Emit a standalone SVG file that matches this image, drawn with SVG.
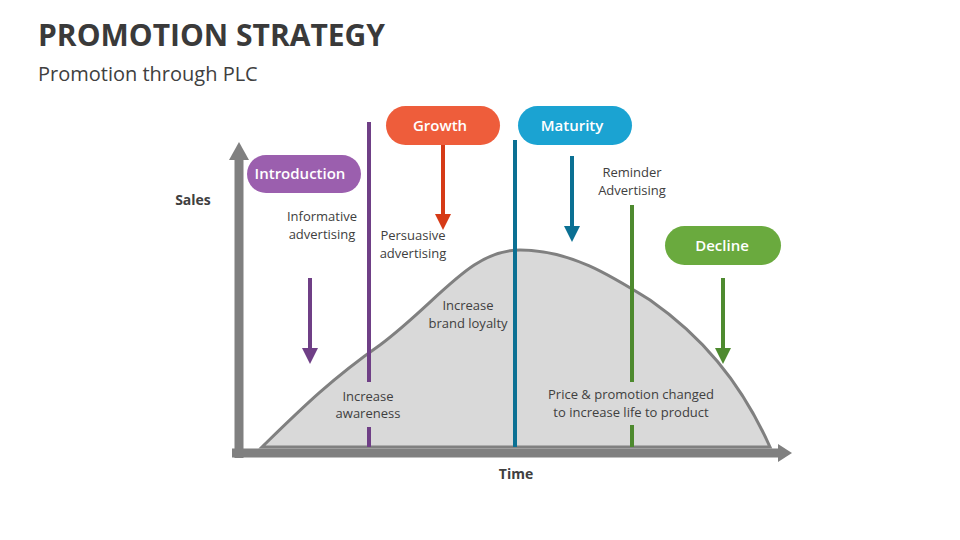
<svg xmlns="http://www.w3.org/2000/svg" width="960" height="540" viewBox="0 0 960 540">
<style>
text{font-family:"Open Sans","Liberation Sans",sans-serif;fill:#404040}
.lbl{font-size:13px;text-anchor:middle}
.pill{font-size:15px;fill:#fff;text-anchor:middle;font-weight:600}
</style>
<defs>
<marker id="ap" markerWidth="4" markerHeight="4" refX="2" refY="2" orient="auto" markerUnits="strokeWidth"><path d="M0,0L4,2L0,4z" fill="#6f3f86"/></marker>
<marker id="ar" markerWidth="4" markerHeight="4" refX="2" refY="2" orient="auto" markerUnits="strokeWidth"><path d="M0,0L4,2L0,4z" fill="#d63a16"/></marker>
<marker id="ab" markerWidth="4" markerHeight="4" refX="2" refY="2" orient="auto" markerUnits="strokeWidth"><path d="M0,0L4,2L0,4z" fill="#0b7093"/></marker>
<marker id="ag" markerWidth="4" markerHeight="4" refX="2" refY="2" orient="auto" markerUnits="strokeWidth"><path d="M0,0L4,2L0,4z" fill="#4e8a2f"/></marker>
</defs>
<rect width="960" height="540" fill="#fff"/>
<text x="38" y="46" style="font-size:30px;font-weight:700;fill:#3a3a3a">PROMOTION STRATEGY</text>
<text x="38" y="81" style="font-size:20px">Promotion through PLC</text>
<g id="curve">
<path d="M262,447 C300,410 330,380 380,345 C440,300 470,250 520,250 C570,250 610,275 650,300 C700,335 740,380 770,447 Z" fill="#d9d9d9" stroke="#808080" stroke-width="3"/>
</g>
<g id="axes">
<path d="M239,458 V158" stroke="#808080" stroke-width="9"/>
<path d="M229,160 L239,142 L249,160Z" fill="#808080"/>
<path d="M232,453 H780" stroke="#808080" stroke-width="9"/>
<path d="M778,444 L792,453 L778,462Z" fill="#808080"/>
<text x="193" y="205" class="lbl" style="font-weight:700;font-size:14px">Sales</text>
<text x="516" y="479" class="lbl" style="font-weight:700;font-size:14px">Time</text>
</g>
<g id="connectors">
<path d="M369,122 V382 M369,427 V447" stroke="#6f3f86" stroke-width="4"/>
<path d="M310,278 V356" stroke="#6f3f86" stroke-width="4" marker-end="url(#ap)"/>
<path d="M443,145 V222" stroke="#d63a16" stroke-width="4" marker-end="url(#ar)"/>
<path d="M515,140 V447" stroke="#0b7093" stroke-width="4"/>
<path d="M572,156 V234" stroke="#0b7093" stroke-width="4" marker-end="url(#ab)"/>
<path d="M632,205 V382 M632,425 V447" stroke="#4e8a2f" stroke-width="4"/>
<path d="M723,278 V356" stroke="#4e8a2f" stroke-width="4" marker-end="url(#ag)"/>
</g>
<g id="introduction">
<rect x="247" y="155" width="114" height="38" rx="19" fill="#9b5fae"/>
<text x="300" y="179" class="pill">Introduction</text>
<text x="322" y="221" class="lbl">Informative</text>
<text x="322" y="239" class="lbl">advertising</text>
<text x="368" y="401" class="lbl">Increase</text>
<text x="368" y="418" class="lbl">awareness</text>
</g>
<g id="growth">
<rect x="386" y="106" width="114" height="39" rx="19.5" fill="#ee5d3b"/>
<text x="440" y="131" class="pill">Growth</text>
<text x="413" y="240" class="lbl">Persuasive</text>
<text x="413" y="258" class="lbl">advertising</text>
<text x="468" y="310" class="lbl">Increase</text>
<text x="468" y="328" class="lbl">brand loyalty</text>
</g>
<g id="maturity">
<rect x="518" y="106" width="114" height="39" rx="19.5" fill="#1ba3d2"/>
<text x="572" y="131" class="pill">Maturity</text>
<text x="632" y="177" class="lbl">Reminder</text>
<text x="632" y="195" class="lbl">Advertising</text>
<text x="631" y="399" class="lbl">Price &amp; promotion changed</text>
<text x="631" y="417" class="lbl">to increase life to product</text>
</g>
<g id="decline">
<rect x="665" y="226" width="116" height="39" rx="19.5" fill="#6aaa3e"/>
<text x="722" y="251" class="pill">Decline</text>
</g>
</svg>
